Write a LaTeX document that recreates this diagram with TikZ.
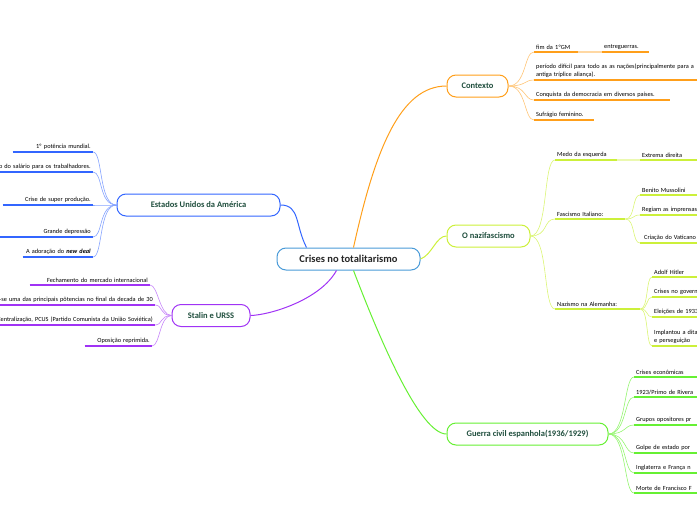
\documentclass[tikz,border=0pt]{standalone}
\usepackage{fontspec}
\setmainfont{Carlito}
\definecolor{cor}{HTML}{FF9F1A}
\definecolor{cyl}{HTML}{CCF03A}
\definecolor{cgr}{HTML}{66F033}
\definecolor{cbl}{HTML}{3366FF}
\definecolor{cpu}{HTML}{A033F5}
\definecolor{ccen}{HTML}{4A9BD8}
\definecolor{txt}{HTML}{1F4E3D}
\newcommand\lfR[6]{% name, x, y(underline), width, color, text (left aligned)
 \node[leaf,text width=#4-4pt,anchor=south west] (#1) at (#2,#3) {#6};
 \draw[#5,line width=1.3pt] (#1.south west) -- (#1.south east);}
\newcommand\lfL[6]{% name, xright, y, width, color, text (right aligned)
 \node[leaf,text width=#4-4pt,align=right,anchor=south east] (#1) at (#2,#3) {#6};
 \draw[#5,line width=1.3pt] (#1.south west) -- (#1.south east);}
\begin{document}
\begin{tikzpicture}[x=1pt,y=-1pt,
 leaf/.style={inner xsep=2pt,inner ysep=2.2pt,font=\fontsize{6.3}{7.8}\selectfont,align=left},
 main/.style={draw,rounded corners=9pt,line width=1pt,fill=white,font=\fontsize{8.5}{10}\selectfont\bfseries,text=txt,inner sep=0pt,minimum height=22pt},
 con/.style={line width=0.6pt}]
\useasboundingbox (0,0) rectangle (697,520);
\begin{scope}
\clip (0,0) rectangle (697,520);
% main nodes
\node[main,draw=ccen,minimum width=143pt,font=\fontsize{10.5}{12}\selectfont\bfseries,text=black!85] (cen) at (348.5,259) {Crises no totalitarismo};
\node[main,draw=cor,minimum width=61pt] (ctx) at (477.5,86) {Contexto};
\node[main,draw=cyl,minimum width=83pt] (naz) at (488.5,236) {O nazifascismo};
\node[main,draw=cgr,minimum width=161pt] (gue) at (527.5,434) {Guerra civil espanhola(1936/1929)};
\node[main,draw=cbl,minimum width=163pt] (eua) at (198.5,205) {Estados Unidos da América};
\node[main,draw=cpu,minimum width=78pt] (sta) at (211,315.5) {Stalin e URSS};
% center connectors
\draw[cor,line width=1pt] (cen.north) ++(5,0) coordinate (o1) .. controls (375,150) and (400,86) .. (ctx.west);
\draw[cyl,line width=1pt] (cen.east) .. controls (432,255) and (436,236) .. (naz.west);
\draw[cgr,line width=1pt] (cen.south) ++(5,0) coordinate (o2) .. controls (380,340) and (420,434) .. (gue.west);
\draw[cbl,line width=1pt] (cen.north west) ++(30,0) coordinate (o3) .. controls (295,225) and (300,205) .. (eua.east);
\draw[cpu,line width=1pt] (cen.south) ++(-12,0) coordinate (o4) .. controls (320,300) and (270,315) .. (sta.east);
% Contexto leaves
\lfR{c1}{534}{52}{44}{cor}{fim da 1ºGM}
\lfR{c1b}{602}{52}{47}{cor}{entreguerras.}
\draw[cor!40,line width=1.3pt] (c1.south east) -- (c1b.south west);
\lfR{c2}{534}{80}{170}{cor}{período difícil para todo as as nações(principalmente para a antiga tríplice aliança).}
\lfR{c3}{534}{100}{136}{cor}{Conquista da democracia em diversos países.}
\lfR{c4}{534}{120}{60}{cor}{Sufrágio feminino.}
\foreach \n in {c1,c2,c3,c4}{\draw[cor!60,con] (ctx.east) .. controls +(18,0) and +(-10,0) .. (\n.south west);}
% nazifascismo
\lfR{n1}{555}{160}{62}{cyl}{Medo da esquerda}
\lfR{n1b}{640}{160}{60}{cyl}{Extrema direita}
\draw[cyl!40,line width=1.3pt] (n1.south east) -- (n1b.south west);
\lfR{n2}{555}{219}{70}{cyl}{Fascismo Italiano:}
\lfR{n3}{555}{309}{85}{cyl}{Nazismo na Alemanha:}
\foreach \n in {n1,n2,n3}{\draw[cyl!70,con] (naz.east) .. controls +(18,0) and +(-12,0) .. (\n.south west);}
\lfR{f1}{640}{195}{60}{cyl}{Benito Mussolini}
\lfR{f2}{640}{215}{80}{cyl}{Regiam as imprensas}
\lfR{f3}{640}{243}{80}{cyl}{\hspace{2pt}Criação do Vaticano}
\foreach \n in {f1,f2,f3}{\draw[cyl!70,con] (n2.south east) .. controls +(10,0) and +(-8,0) .. (\n.south west);}
\lfR{z1}{652}{277}{60}{cyl}{Adolf Hitler}
\lfR{z2}{652}{297}{80}{cyl}{Crises no governo}
\lfR{z3}{652}{317}{80}{cyl}{Eleições de 1933}
\lfR{z4}{652}{346}{80}{cyl}{Implantou a ditadura\\e perseguição}
\foreach \n in {z1,z2,z3,z4}{\draw[cyl!70,con] (n3.south east) .. controls +(8,0) and +(-6,0) .. (\n.south west);}
% Guerra civil
\lfR{g1}{634}{377}{70}{cgr}{Crises econômicas}
\lfR{g2}{634}{397}{80}{cgr}{1923/Primo de Rivera}
\lfR{g3}{634}{425}{80}{cgr}{Grupos opositores pr}
\lfR{g4}{634}{453}{80}{cgr}{Golpe de estado por}
\lfR{g5}{634}{473}{80}{cgr}{Inglaterra e França n}
\lfR{g6}{634}{493}{80}{cgr}{Morte de Francisco F}
\foreach \n in {g1,g2,g3,g4,g5,g6}{\draw[cgr!70,con] (gue.east) .. controls +(18,0) and +(-10,0) .. (\n.south west);}
% EUA
\lfL{e1}{93}{152}{80}{cbl}{1º potência mundial.}
\lfL{e2}{93}{172}{150}{cbl}{Aumento do salário para os trabalhadores.}
\lfL{e3}{93}{205}{90}{cbl}{Crise de super produção.}
\lfL{e4}{93}{237}{150}{cbl}{Grande depressão}
\lfL{e5}{93}{257}{70}{cbl}{A adoração do \textbf{\textit{new deal}}}
\foreach \n in {e1,e2,e3,e4,e5}{\draw[cbl!60,con] (eua.west) .. controls +(-18,0) and +(10,0) .. (\n.south east);}
% Stalin
\lfL{s1}{150}{285}{120}{cpu}{Fechamento do mercado internacional}
\lfL{s2}{155}{305}{220}{cpu}{Tornou-se uma das principais pôtencias no final da decada de 30}
\lfL{s3}{155}{325}{220}{cpu}{Centralização, PCUS (Partido Comunista da União Soviética)}
\lfL{s4}{152}{346}{67}{cpu}{Oposição reprimida.}
\foreach \n in {s1,s2,s3,s4}{\draw[cpu!60,con] (sta.west) .. controls +(-12,0) and +(8,0) .. (\n.south east);}
\end{scope}
\end{tikzpicture}
\end{document}
